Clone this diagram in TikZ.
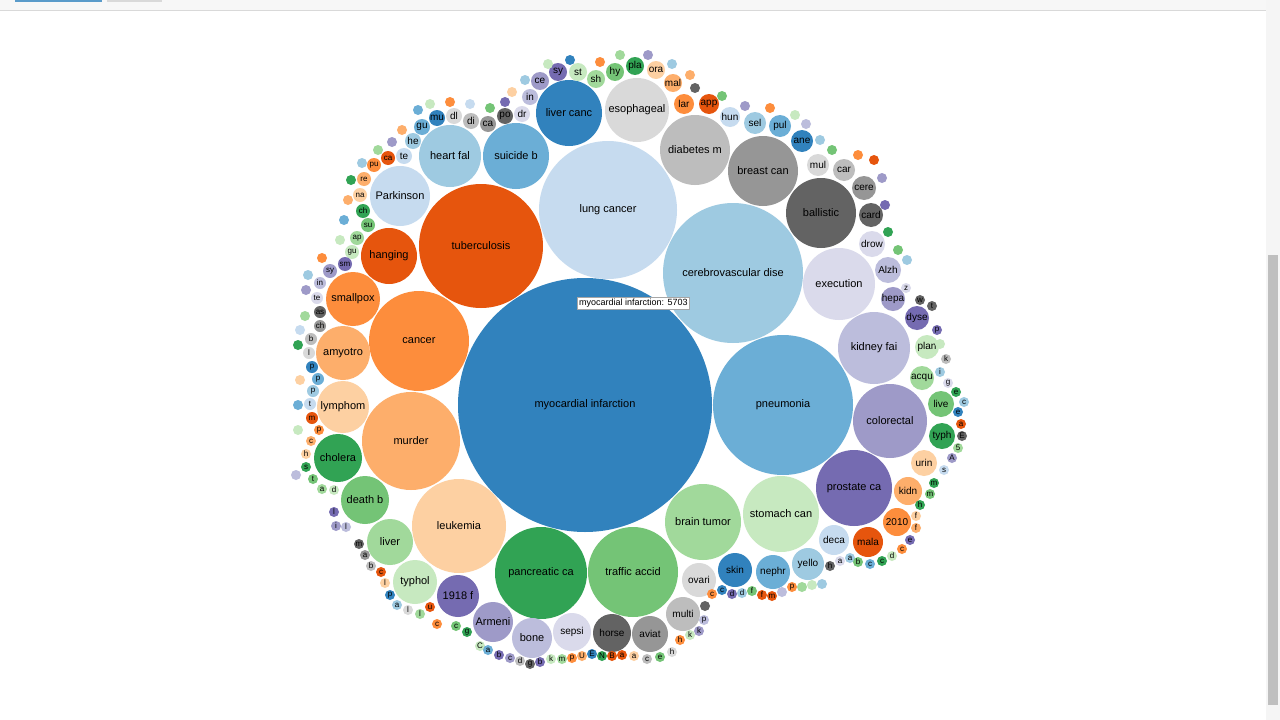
\documentclass[tikz,border=0pt]{standalone}
\usepackage{fontspec}
\setmainfont{Liberation Sans}
\definecolor{ca}{HTML}{3182BD}\definecolor{cb}{HTML}{6BAED6}\definecolor{cc}{HTML}{9ECAE1}\definecolor{cd}{HTML}{C6DBEF}
\definecolor{oa}{HTML}{E6550D}\definecolor{ob}{HTML}{FD8D3C}\definecolor{oc}{HTML}{FDAE6B}\definecolor{od}{HTML}{FDD0A2}
\definecolor{ga}{HTML}{31A354}\definecolor{gb}{HTML}{74C476}\definecolor{gc}{HTML}{A1D99B}\definecolor{gd}{HTML}{C7E9C0}
\definecolor{pa}{HTML}{756BB1}\definecolor{pb}{HTML}{9E9AC8}\definecolor{pc}{HTML}{BCBDDC}\definecolor{pd}{HTML}{DADAEB}
\definecolor{ya}{HTML}{636363}\definecolor{yb}{HTML}{969696}\definecolor{yc}{HTML}{BDBDBD}\definecolor{yd}{HTML}{D9D9D9}
\def\nolab{o}
\begin{document}
\begin{tikzpicture}[x=1pt,y=-1pt,
  bub/.style={circle,inner sep=0pt,draw=none},
  tiny/.style={circle,inner sep=0pt,draw=none,font=\fontsize{8}{9}\selectfont}]
\useasboundingbox (0,0) rectangle (1280,720);
\fill[white] (0,0) rectangle (1280,720);
% top bar and scrollbar
\fill[black!3] (0,0) rectangle (1266,10);
\draw[black!15] (0,10) -- (1266,10);
\fill[ca!80!white] (15,0) rectangle (102,2);
\fill[black!15] (107,0) rectangle (162,2);
\fill[black!4] (1266,0) rectangle (1280,720);
\fill[black!25] (1268,255) rectangle (1278,705);
\foreach \x/\y/\r/\c/\t [count=\i] in {
585/405/127/ca/myocardial infarction, 608/210/69/cd/lung cancer, 733/273/70/cc/cerebrovascular dise,
783/405/70/cb/pneumonia, 481/246/62/oa/tuberculosis, 419/341/50/ob/cancer, 411/441/49/oc/murder,
459/526/47/od/leukemia, 541/573/46/ga/pancreatic ca, 633/572/45/gb/traffic accid, 703/522/38/gc/brain tumor,
781/514/38/gd/stomach can, 854/488/38/pa/prostate ca, 890/421/37/pb/colorectal, 874/348/36/pc/kidney fai,
839/284/36/pd/execution, 821/213/35/ya/ballistic, 763/171/35/yb/breast can, 695/150/35/yc/diabetes m,
637/110/32/yd/esophageal, 569/113/33/ca/liver canc, 516/156/33/cb/suicide b, 450/156/31/cc/heart fal,
400/196/30/cd/Parkinson, 389/256/28/oa/hanging, 353/299/27/ob/smallpox, 343/353/27/oc/amyotro,
343/407/26/od/lymphom, 338/458/24/ga/cholera, 365/500/24/gb/death b, 390/542/23/gc/liver,
415/582/22/gd/typhol, 458/596/21/pa/1918 f, 493/622/20/pb/Armeni, 532/638/20/pc/bone, 572/632/19/pd/sepsi,
612/633/19/ya/horse, 650/634/18/yb/aviat, 683/614/17/yc/multi, 699/580/17/yd/ovari, 735/570/17/ca/skin,
773/572/17/cb/nephr, 808/564/16/cc/yello, 834/540/15/cd/deca, 868/542/15/oa/mala, 897/522/14/ob/2010,
908/491/14/oc/kidn, 924/463/13/od/urin, 942/436/13/ga/typh, 941/404/13/gb/live, 922/378/12/gc/acqu,
927/347/12/gd/plan, 917/318/12/pa/dyse, 893/299/12/pb/hepa, 888/270/13/pc/Alzh, 872/244/13/pd/drow,
871/215/12/ya/card, 864/188/12/yb/cere, 844/170/11/yc/car, 818/165/11/yd/mul, 802/141/11/ca/ane,
780/126/11/cb/pul, 755/123/11/cc/sel, 730/117/10/cd/hun, 709/104/10/oa/app, 684/104/10/ob/lar,
673/83/9/oc/mal, 656/70/9/od/ora, 635/66/9/ga/pla, 615/72/9/gb/hy, 596/79/9/gc/sh, 578/72/9/gd/st,
558/72/9/pa/sy, 540/81/9/pb/ce, 530/97/8/pc/in, 522/114/8/pd/dr, 505/116/8/ya/po, 488/124/8/yb/ca,
471/121/8/yc/di, 454/116/8/yd/dl, 437/118/8/ca/mu, 422/127/8/cb/gu, 413/141/8/cc/he, 404/156/8/cd/te}
  \node[bub,fill=\c,minimum size={2*\r pt},font={\fontsize{\ifnum\r<20 10\else 11\fi}{13}\selectfont}] (b\i) at (\x,\y) {\t};
\foreach \x/\y/\r/\c/\t [count=\i] in {
388/158/7/oa/ca, 374/165/7/ob/pu, 364/179/7/oc/re, 360/195/7/od/na, 363/211/7/ga/ch, 368/225/7/gb/su,
357/238/7/gc/ap, 352/252/7/gd/gu, 345/264/7/pa/sm, 330/271/7/pb/sy, 320/283/6/pc/in, 317/298/6/pd/te,
320/312/6/ya/as, 320/326/6/yb/ch, 311/339/6/yc/b, 309/353/6/yd/l, 312/367/6/ca/p, 318/379/6/cb/p,
313/391/6/cc/p, 310/404/6/cd/t, 312/418/6/oa/m, 319/430/5/ob/p, 311/441/5/oc/c, 306/454/5/od/h,
306/467/5/ga/s, 313/479/5/gb/t, 322/489/5/gc/a, 334/490/5/gd/d, 334/512/5/pa/l, 336/526/5/pb/i,
346/527/5/pc/l, 359/544/5/ya/m, 365/555/5/yb/a, 371/566/5/yc/b, 381/572/5/oa/c, 385/583/5/od/l,
390/595/5/ca/p, 397/605/5/cc/a, 408/610/5/yd/l, 420/614/5/gc/l, 430/607/5/oa/u, 437/624/5/ob/c,
456/626/5/gb/c, 467/632/5/ga/g, 480/646/5/gd/C, 488/650/5/cb/a, 499/655/5/pa/b, 510/658/5/pb/c,
520/661/5/yc/d, 530/664/5/ya/g, 540/662/5/pa/b, 551/659/5/gd/k, 562/659/5/gc/m, 572/658/5/ob/p,
582/656/5/oc/U, 592/654/5/ca/E, 602/656/5/ga/N, 612/656/5/oa/B, 622/655/5/oa/a, 634/656/5/od/a,
647/659/5/yc/c, 660/657/5/gb/e, 672/652/5/yd/h, 680/640/5/ob/h, 690/635/5/gd/k, 699/631/5/pb/k,
704/620/5/pc/p, 705/606/5/ya/o, 712/594/5/ob/c, 722/590/5/ca/c, 732/594/5/pa/d, 742/593/5/cc/d,
752/591/5/gb/f, 762/595/5/oa/f, 772/596/5/oa/m, 782/592/5/pc/o, 792/587/5/ob/p, 802/587/5/gc/o,
812/585/5/gd/o, 822/584/5/cc/o, 830/566/5/ya/h, 840/561/5/pd/a, 850/558/5/cc/a, 858/562/5/gb/b,
870/564/5/cb/c, 882/561/5/ga/c, 892/556/5/gd/d, 902/549/5/ob/c, 910/540/5/pa/e, 916/528/5/oc/f,
916/516/5/od/f, 920/505/5/ga/h, 930/494/5/gb/m, 934/483/5/ga/m, 944/470/5/cd/s, 952/458/5/pb/A,
958/448/5/gc/5, 962/436/5/ya/E, 961/424/5/oa/a, 958/412/5/ca/e, 964/402/5/cc/c, 956/392/5/ga/e,
948/383/5/pd/g, 940/372/5/cc/i, 946/359/5/yc/k, 940/344/5/gd/o, 937/330/5/pa/p, 932/306/5/ya/t,
920/300/5/ya/w, 906/288/5/pd/z, 907/260/5/cc/o, 898/250/5/gb/o, 888/232/5/ga/o, 885/205/5/pa/o,
882/178/5/pb/o, 874/160/5/oa/o, 858/155/5/ob/o, 832/150/5/gb/o, 820/140/5/cc/o, 806/124/5/pc/o,
795/115/5/gd/o, 770/108/5/ob/o, 745/106/5/pb/o, 722/96/5/gb/o, 695/88/5/ya/o, 690/75/5/oc/o,
672/64/5/cc/o, 648/55/5/pb/o, 620/55/5/gc/o, 600/62/5/ob/o, 570/60/5/ca/o, 548/64/5/gd/o,
525/80/5/cc/o, 512/92/5/od/o, 505/102/5/pa/o, 490/108/5/gb/o, 470/104/5/cd/o, 450/102/5/ob/o,
430/104/5/gd/o, 418/110/5/cb/o, 402/130/5/oc/o, 392/142/5/pb/o, 378/150/5/gc/o, 362/163/5/cc/o,
351/180/5/ga/o, 348/200/5/oc/o, 344/220/5/cb/o, 340/240/5/gd/o, 322/258/5/ob/o, 308/275/5/cc/o,
306/290/5/pb/o, 305/316/5/gc/o, 300/330/5/cd/o, 298/345/5/ga/o, 300/380/5/od/o, 298/405/5/cb/o,
298/430/5/gd/o, 296/475/5/pc/o}
  \node[tiny,fill=\c,minimum size={2*\r pt}] (s\i) at (\x,\y) {\ifx\t\nolab\else\t\fi};
% tooltip
\node[draw=black!35,fill=white,inner sep=2pt,font=\fontsize{9}{10}\selectfont,anchor=north west] (tip) at (577,297) {myocardial infarction: 5703};
\end{tikzpicture}
\end{document}
